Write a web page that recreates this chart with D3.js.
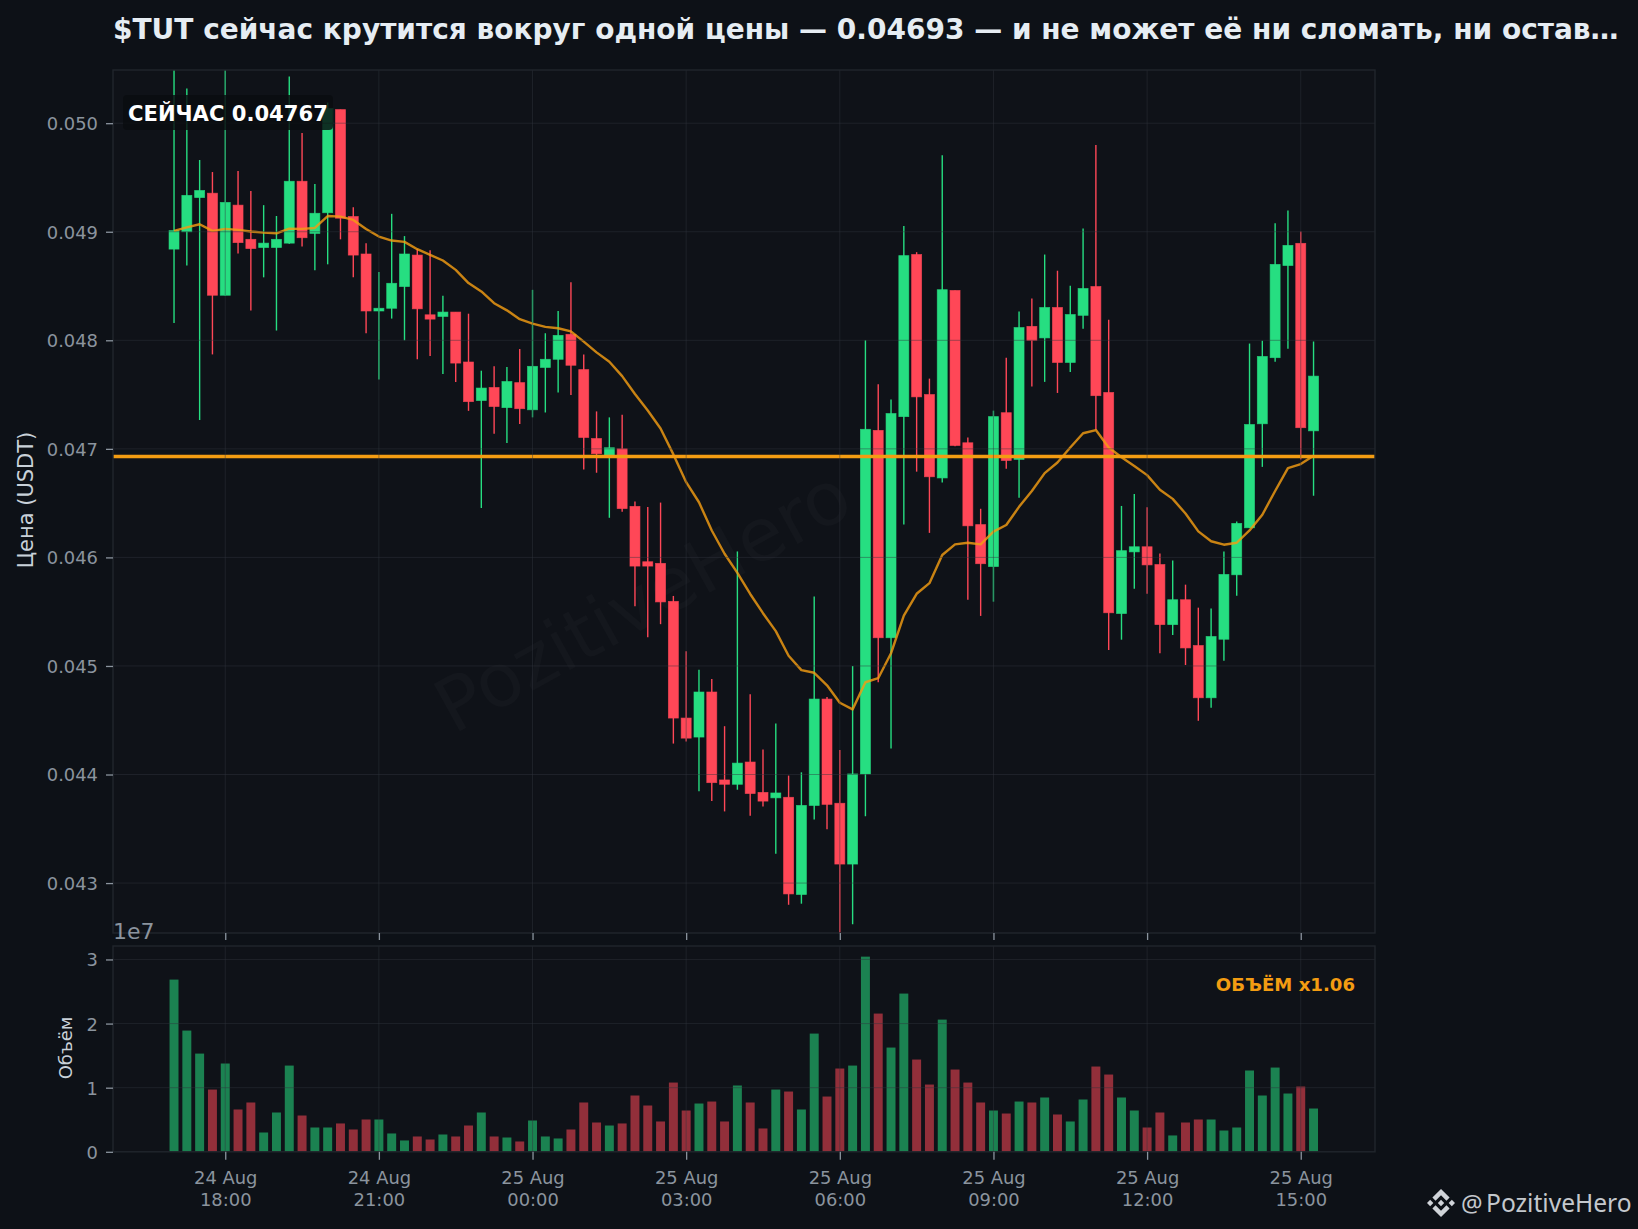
<!DOCTYPE html>
<html><head><meta charset="utf-8">
<script src="https://cdn.jsdelivr.net/npm/d3@7"></script>
<style>html,body{margin:0;padding:0;background:#0d1117;overflow:hidden}svg{display:block}text{font-family:"DejaVu Sans",sans-serif}</style>
</head><body><svg id="c" width="1638" height="1229"></svg>
<script>
const opens=[48.84,49.00,49.315,49.355,48.415,49.245,48.93,48.855,48.855,48.895,49.465,48.985,49.175,50.125,49.14,48.795,48.27,48.295,48.495,48.785,48.235,48.22,48.26,47.80,47.445,47.565,47.38,47.61,47.36,47.75,47.825,48.055,47.73,47.095,46.92,47.00,46.47,45.96,45.945,45.595,44.52,44.345,44.76,43.95,43.91,44.115,43.835,43.785,43.79,42.895,43.715,44.695,43.735,43.175,44.005,47.17,45.26,47.297,48.79,47.50,46.732,48.459,47.056,46.302,45.916,47.333,46.903,48.128,48.022,48.302,47.796,48.23,48.495,47.519,45.483,46.051,46.098,45.934,45.381,45.61,45.188,44.707,45.246,45.84,46.273,47.231,47.84,48.689,48.893,47.166].map(v=>v/1000);
const closes=[49.01,49.335,49.38,48.415,49.27,48.90,48.845,48.895,48.93,49.465,48.945,49.17,50.135,49.125,48.785,48.27,48.295,48.525,48.795,48.29,48.195,48.26,47.79,47.435,47.56,47.39,47.62,47.37,47.76,47.825,48.045,47.77,47.105,46.955,47.01,46.45,45.92,45.92,45.59,44.52,44.335,44.76,43.925,43.91,44.105,43.825,43.755,43.83,42.90,43.715,44.695,43.725,43.175,44.005,47.18,45.26,47.325,48.78,47.479,46.743,48.466,47.031,46.291,45.942,47.297,46.893,48.117,48.0,48.302,47.796,48.237,48.477,47.49,45.49,46.062,46.098,45.931,45.381,45.61,45.166,44.707,45.271,45.843,46.313,47.224,47.851,48.699,48.874,47.195,47.67].map(v=>v/1000);
const highs=[50.7,50.32,49.66,49.55,50.7,49.56,49.375,49.245,49.145,50.43,49.91,49.44,50.19,50.125,49.225,48.895,48.63,49.165,48.96,48.84,48.83,48.41,48.26,48.245,47.72,47.76,47.755,47.92,48.465,48.065,48.27,48.535,47.87,47.345,47.29,47.315,46.515,46.465,46.505,45.645,45.135,44.965,44.88,44.445,46.055,44.74,44.23,44.47,43.99,44.02,45.64,44.715,44.225,45.0,48.0,47.595,47.455,49.053,48.812,47.647,49.705,48.459,47.104,46.448,47.352,47.84,48.266,48.386,48.79,48.641,48.503,49.03,49.8,48.189,46.474,46.583,46.463,46.036,45.971,45.749,45.537,45.53,46.055,46.331,47.97,47.996,49.078,49.195,49.002,47.989].map(v=>v/1000);
const lows=[48.16,48.69,47.265,47.87,48.41,48.80,48.275,48.58,48.09,48.89,48.865,48.645,48.70,48.93,48.58,48.065,47.64,48.20,48.00,47.825,47.855,47.69,47.615,47.35,46.455,47.14,47.055,47.23,47.29,47.335,47.52,47.495,46.81,46.78,46.365,46.42,45.55,45.265,45.385,44.285,44.305,43.845,43.755,43.66,43.86,43.62,43.705,43.27,42.80,42.81,43.585,43.495,42.50,42.62,43.615,44.85,44.24,46.302,46.79,46.226,46.689,47.024,45.61,45.461,45.592,46.816,46.55,47.574,47.617,47.515,47.709,48.106,47.177,45.148,45.242,45.712,45.665,45.118,45.286,45.009,44.495,44.616,45.049,45.647,46.27,46.834,47.803,47.923,46.903,46.568].map(v=>v/1000);
const volumes=[2.686,1.891,1.532,0.971,1.377,0.66,0.769,0.301,0.613,1.345,0.566,0.379,0.379,0.442,0.348,0.504,0.504,0.286,0.177,0.239,0.192,0.27,0.239,0.41,0.613,0.239,0.223,0.161,0.488,0.239,0.208,0.348,0.769,0.457,0.41,0.442,0.878,0.722,0.473,1.08,0.644,0.753,0.784,0.473,1.034,0.769,0.364,0.971,0.94,0.66,1.844,0.862,1.299,1.345,3.044,2.156,1.626,2.468,1.439,1.049,2.062,1.283,1.08,0.769,0.644,0.597,0.784,0.769,0.847,0.582,0.473,0.816,1.33,1.205,0.847,0.644,0.379,0.613,0.255,0.457,0.504,0.504,0.332,0.379,1.268,0.878,1.314,0.909,1.018,0.675];
const maLine=[49.008,49.041,49.069,49.008,49.026,49.017,49.002,48.992,48.986,49.029,49.026,49.035,49.145,49.139,49.109,49.026,48.956,48.919,48.907,48.839,48.787,48.735,48.649,48.527,48.45,48.342,48.276,48.194,48.153,48.124,48.111,48.082,47.988,47.889,47.802,47.67,47.505,47.353,47.188,46.949,46.693,46.508,46.248,46.034,45.857,45.663,45.486,45.321,45.094,44.962,44.937,44.822,44.661,44.60,44.85,44.887,45.117,45.464,45.665,45.763,46.022,46.12,46.135,46.12,46.237,46.299,46.466,46.612,46.776,46.874,47.013,47.144,47.173,47.013,46.922,46.842,46.758,46.623,46.539,46.404,46.24,46.149,46.117,46.135,46.248,46.393,46.612,46.823,46.86,46.936].map(v=>v/1000);
const levelPrice=0.04693;
const priceTicks=[0.043,0.044,0.045,0.046,0.047,0.048,0.049,0.050];
const volumeTicks=[0,1,2,3];
const timeTicks=["2025-08-24T18:00Z","2025-08-24T21:00Z","2025-08-25T00:00Z","2025-08-25T03:00Z","2025-08-25T06:00Z","2025-08-25T09:00Z","2025-08-25T12:00Z","2025-08-25T15:00Z"].map(s=>new Date(s));
const firstCandle=new Date("2025-08-24T17:00Z");
const titleText="$TUT сейчас крутится вокруг одной цены — 0.04693 — и не может её ни сломать, ни остав…";

const times=opens.map((_,i)=>d3.utcMinute.offset(firstCandle,15*i));
const box={l:113,r:1375,t:70,b:933,vt:946,vb:1151.8};
const x=d3.scaleUtc().domain([new Date("2025-08-24T15:48:30Z"),new Date("2025-08-25T16:27:00Z")]).range([box.l,box.r]);
const y=d3.scaleLinear().domain([0.04254,0.05049]).range([box.b,box.t]);
const yv=d3.scaleLinear().domain([0,3.21]).range([box.vb,box.vt]);
const UP="#26de81",DOWN="#ff4757",ORANGE="#f39c12",GRID="#30363d",SPINE="#21262d",TICK="#8b949e";
const cw=x(times[1])-x(times[0]);
const svg=d3.select("#c");
svg.append("rect").attr("width",1638).attr("height",1229).attr("fill","#0d1117");
const defs=svg.append("defs");
defs.append("clipPath").attr("id","cm").append("rect").attr("x",box.l).attr("y",box.t).attr("width",box.r-box.l).attr("height",box.b-box.t);
defs.append("clipPath").attr("id","cv").append("rect").attr("x",box.l).attr("y",box.vt).attr("width",box.r-box.l).attr("height",box.vb-box.vt);
[[box.t,box.b],[box.vt,box.vb]].forEach(([a,b])=>svg.append("rect").attr("x",box.l).attr("y",a).attr("width",box.r-box.l).attr("height",b-a).attr("fill","#0f1218"));

// watermark
svg.append("text").attr("transform","translate(645,605) rotate(-29)").attr("text-anchor","middle").attr("dominant-baseline","middle")
  .attr("font-size",74).attr("fill","#ffffff").attr("fill-opacity",0.022).text("PozitiveHero");

// candles
const m=svg.append("g").attr("clip-path","url(#cm)");
const col=i=>closes[i]>=opens[i]?UP:DOWN;
m.selectAll(".w").data(times).join("line").attr("x1",d=>x(d)).attr("x2",d=>x(d))
  .attr("y1",(d,i)=>y(highs[i])).attr("y2",(d,i)=>y(lows[i])).attr("stroke",(d,i)=>col(i)).attr("stroke-width",1.4);
m.selectAll(".b").data(times).join("rect").attr("x",d=>x(d)-cw*0.39).attr("width",cw*0.78)
  .attr("y",(d,i)=>y(Math.max(opens[i],closes[i]))).attr("height",(d,i)=>Math.max(1,Math.abs(y(opens[i])-y(closes[i]))))
  .attr("fill",(d,i)=>col(i)).attr("stroke",(d,i)=>col(i)).attr("stroke-opacity",0.75).attr("stroke-width",0.8);

// volume
const v=svg.append("g").attr("clip-path","url(#cv)");
v.selectAll("rect").data(times).join("rect").attr("x",d=>x(d)-cw*0.35).attr("width",cw*0.7)
  .attr("y",(d,i)=>yv(volumes[i])).attr("height",(d,i)=>yv(0)-yv(volumes[i]))
  .attr("fill",(d,i)=>col(i)).attr("fill-opacity",0.55);

// grids on top of marks
const gridStyle=g=>g.selectAll("line").attr("stroke",GRID).attr("stroke-opacity",0.45).attr("stroke-width",1);
svg.append("g").call(g=>g.selectAll(".h").data(priceTicks).join("line").attr("x1",box.l).attr("x2",box.r).attr("y1",d=>y(d)).attr("y2",d=>y(d))).call(gridStyle);
svg.append("g").call(g=>g.selectAll(".h").data(volumeTicks.slice(1)).join("line").attr("x1",box.l).attr("x2",box.r).attr("y1",d=>yv(d)).attr("y2",d=>yv(d))).call(gridStyle);
svg.append("g").call(g=>g.selectAll(".h").data(timeTicks).join("line").attr("x1",d=>x(d)).attr("x2",d=>x(d)).attr("y1",box.t).attr("y2",box.b)).call(gridStyle);
svg.append("g").call(g=>g.selectAll(".h").data(timeTicks).join("line").attr("x1",d=>x(d)).attr("x2",d=>x(d)).attr("y1",box.vt).attr("y2",box.vb)).call(gridStyle);

// level + moving average
m.append("line").attr("x1",box.l).attr("x2",box.r).attr("y1",y(levelPrice)).attr("y2",y(levelPrice)).attr("stroke",ORANGE).attr("stroke-width",3.4);
m.append("path").datum(times).attr("fill","none").attr("stroke",ORANGE).attr("stroke-opacity",0.82).attr("stroke-width",2.4).attr("stroke-linejoin","round")
  .attr("d",d3.line().x(d=>x(d)).y((d,i)=>y(maLine[i])));

// spines
[[box.t,box.b],[box.vt,box.vb]].forEach(([a,b])=>svg.append("rect").attr("x",box.l).attr("y",a).attr("width",box.r-box.l).attr("height",b-a).attr("fill","none").attr("stroke",SPINE).attr("stroke-width",1.4));

// axes
function style(g,fs){g.select(".domain").remove();g.selectAll(".tick line").attr("stroke",TICK).attr("stroke-width",1.3);
  g.selectAll(".tick text").attr("fill",TICK).attr("font-size",fs).attr("font-family","DejaVu Sans");}
const nudge=g=>g.selectAll(".tick text").attr("dy","0.36em");
svg.append("g").attr("transform",`translate(${box.l},0)`).call(d3.axisLeft(y).tickValues(priceTicks).tickFormat(d3.format(".3f")).tickSize(7).tickPadding(8)).call(style,17.9).call(nudge);
svg.append("g").attr("transform",`translate(${box.l},0)`).call(d3.axisLeft(yv).tickValues(volumeTicks).tickFormat(d3.format("d")).tickSize(7).tickPadding(8)).call(style,17.9).call(nudge);
svg.append("g").attr("transform",`translate(0,${box.b})`).call(d3.axisBottom(x).tickValues(timeTicks).tickFormat("").tickSize(7)).call(style,17.9);
const xb=svg.append("g").attr("transform",`translate(0,${box.vb})`).call(d3.axisBottom(x).tickValues(timeTicks).tickFormat("").tickSize(8)).call(style,17.9);
const fmtD=d3.utcFormat("%d %b"),fmtT=d3.utcFormat("%H:%M");
xb.selectAll(".tick text").each(function(d){const t=d3.select(this).attr("y",null).attr("dy",null).attr("text-anchor","middle");
  t.append("tspan").attr("x",0).attr("y",32).text(fmtD(d));t.append("tspan").attr("x",0).attr("y",54).text(fmtT(d));});

// labels
svg.append("text").attr("x",113).attr("y",39).attr("font-size",28).attr("font-weight","bold").attr("fill","#e6edf3").text(titleText);
svg.append("text").attr("transform","translate(27,500) rotate(-90)").attr("text-anchor","middle").attr("dominant-baseline","middle").attr("font-size",21).attr("fill","#c9d1d9").text("Цена (USDT)");
svg.append("text").attr("transform","translate(67,1048) rotate(-90)").attr("text-anchor","middle").attr("dominant-baseline","middle").attr("font-size",18).attr("fill","#c9d1d9").text("Объём");
svg.append("text").attr("x",113).attr("y",939).attr("font-size",22).attr("fill",TICK).text("1e7");
svg.append("rect").attr("x",123).attr("y",95).attr("width",210).attr("height",35).attr("rx",4).attr("fill","#0a0c10").attr("fill-opacity",0.82);
svg.append("text").attr("x",128).attr("y",121).attr("font-size",21.1).attr("font-weight","bold").attr("fill","#ffffff").text("СЕЙЧАС 0.04767");
svg.append("text").attr("x",1355).attr("y",991).attr("text-anchor","end").attr("font-size",18.1).attr("font-weight","bold").attr("fill",ORANGE).text("ОБЪЁМ x1.06");

// brand
const logo=svg.append("g").attr("transform","translate(1427,1189) scale(0.2212)").attr("fill","#d0d4d9");
["M38.73 53.2l24.59-24.58 24.6 24.6 14.3-14.31L63.32 0 24.42 38.9l14.31 14.3z","M0 63.31l14.3-14.31 14.31 14.31-14.31 14.3z","M38.73 73.41l24.59 24.59 24.6-24.6 14.31 14.29-38.9 38.91-38.91-38.88-.02-.02z","M98.01 63.31l14.3-14.3 14.3 14.3-14.3 14.3z","M77.83 63.3L63.32 48.78 52.59 59.51l-1.24 1.23-2.54 2.54 14.51 14.5 14.51-14.47z"].forEach(p=>logo.append("path").attr("d",p));
svg.append("text").attr("x",1461).attr("y",1212).attr("font-size",24).style("font-family","'Noto Sans'").attr("fill","#c4c8cd").text("@");
svg.append("text").attr("x",1486).attr("y",1212).attr("font-size",24.6).style("font-family","'Noto Sans'").attr("fill","#c4c8cd").text("PozitiveHero");
</script></body></html>
